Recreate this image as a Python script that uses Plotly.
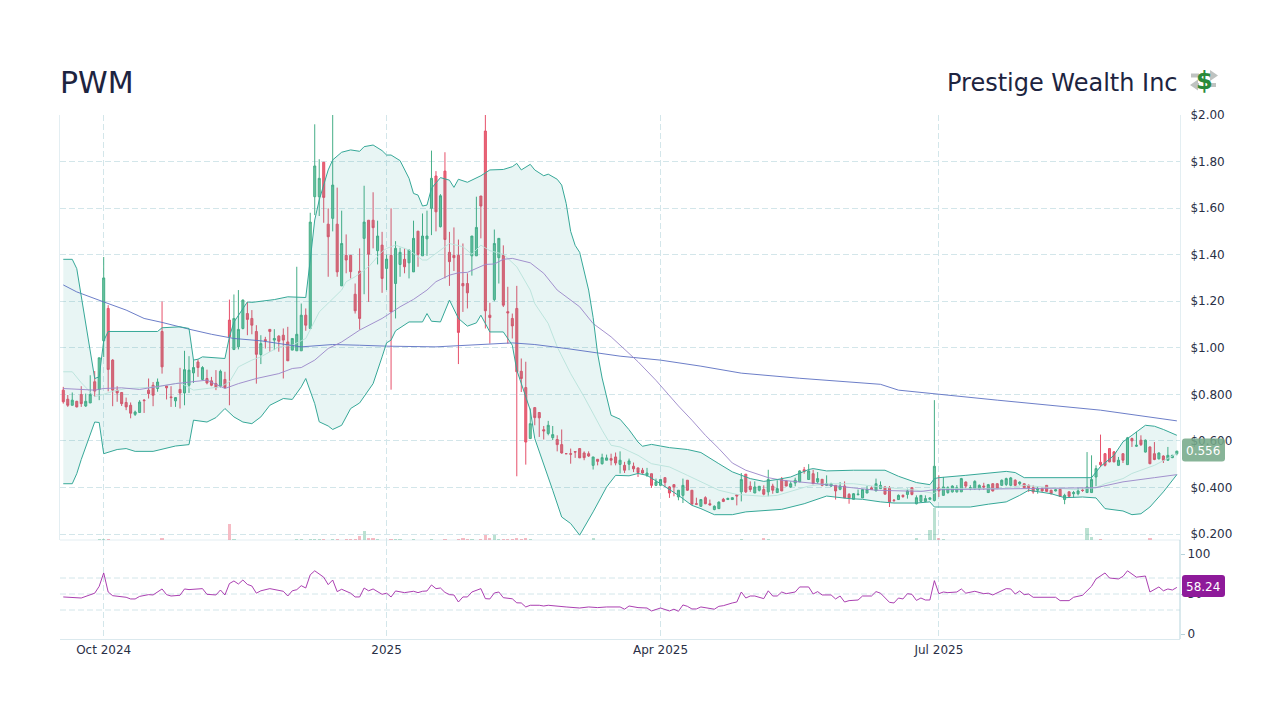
import plotly.graph_objects as go

ticker = "PWM"
company = "Prestige Wealth Inc"
x_tick_pos = [9, 72, 133, 195]
x_tick_text = ["Oct 2024", "2025", "Apr 2025", "Jul 2025"]
price_ticks = [2.0, 1.8, 1.6, 1.4, 1.2, 1.0, 0.8, 0.6, 0.4, 0.2]
price_tick_text = ["$2.00", "$1.80", "$1.60", "$1.40", "$1.20", "$1.00", "$0.800", "$0.600", "$0.400", "$0.200"]
last_price = 0.556
last_rsi = 58.24

opens = [
    .818,.779,.753,.770,.799,.750,.763,.854,.821,1.03,
    1.169,.947,.818,.808,.765,.753,.714,.722,.775,.818,
    .839,.825,1.07,.836,.789,.772,.821,.806,.839,.892,
    .939,.864,.868,.858,.846,.835,.864,1.119,.993,1.004,
    1.083,1.147,1.126,1.07,.971,1.035,1.079,1.033,1.05,1.054,
    1.025,.99,.987,.987,1.14,1.083,1.649,1.649,1.797,1.531,
    1.556,1.531,1.266,1.397,1.397,1.23,1.329,1.47,1.548,1.548,
    1.417,1.441,1.341,1.397,1.276,1.358,1.38,1.365,1.326,1.501,
    1.395,1.468,1.599,1.738,1.52,1.759,1.41,1.397,1.397,1.276,
    1.276,1.395,1.395,1.652,1.931,1.14,1.207,1.387,1.397,1.155,
    1.126,1.169,.899,.829,.61,.743,.722,.648,.632,.614,
    .606,.584,.545,.545,.554,.567,.548,.545,.495,.521,
    .502,.517,.524,.531,.499,.495,.5,.491,.484,.474,
    .452,.459,.409,.409,.442,.402,.412,.359,.366,.431,
    .388,.33,.319,.356,.33,.305,.309,.349,.348,.348,
    .369,.381,.457,.405,.376,.388,.391,.381,.406,.378,
    .434,.428,.402,.419,.424,.476,.434,.459,.424,.435,
    .409,.406,.409,.392,.406,.37,.349,.369,.355,.376,
    .398,.385,.395,.402,.398,.346,.348,.366,.37,.399,
    .33,.34,.34,.349,.344,.398,.366,.378,.381,.381,
    .381,.423,.395,.395,.395,.406,.378,.416,.416,.409,
    .413,.409,.431,.416,.416,.409,.399,.388,.395,.409,
    .388,.385,.392,.348,.381,.373,.373,.389,.378,.378,
    .445,.508,.545,.567,.553,.495,.545,.498,.61,.577,
    .603,.552,.574,.545,.523,.535,.517,.528,.545,
]
highs = [
    .832,.797,.808,.772,.835,.803,.882,.900,.957,1.39,
    1.183,.951,.835,.808,.786,.765,.73,.775,.78,.868,
    .853,.868,1.199,.839,.835,.787,.914,.987,.964,.947,
    .95,.921,.906,.875,.904,.906,.897,1.207,1.229,1.248,
    1.207,1.197,1.162,1.097,1.054,1.047,1.08,1.08,1.054,1.083,
    1.09,1.04,1.348,1.19,1.169,1.58,1.96,1.81,1.797,1.599,
    2.003,1.688,1.589,1.487,1.397,1.276,1.427,1.696,1.548,1.668,
    1.546,1.498,1.40,1.599,1.458,1.43,1.427,1.42,1.546,1.501,
    1.577,1.589,1.847,1.759,1.66,1.84,1.498,1.517,1.465,1.448,
    1.32,1.48,1.649,1.652,2.003,1.193,1.508,1.47,1.44,1.262,
    1.147,1.266,.954,.94,.739,.743,.722,.664,.686,.664,
    .624,.649,.546,.567,.554,.567,.555,.555,.531,.521,
    .545,.541,.545,.55,.555,.51,.524,.507,.484,.484,
    .484,.459,.438,.434,.442,.406,.412,.388,.438,.431,
    .388,.356,.348,.362,.348,.323,.34,.355,.356,.358,
    .369,.462,.457,.426,.426,.405,.409,.476,.416,.431,
    .445,.428,.426,.442,.474,.488,.5,.476,.466,.435,
    .452,.42,.409,.423,.426,.376,.376,.391,.391,.406,
    .405,.438,.426,.406,.406,.349,.37,.37,.395,.399,
    .366,.366,.366,.357,.775,.452,.445,.405,.409,.41,
    .441,.426,.41,.431,.413,.42,.415,.418,.418,.434,
    .442,.445,.435,.426,.418,.413,.409,.405,.399,.409,
    .39,.393,.395,.373,.383,.385,.398,.395,.552,.538,
    .495,.627,.547,.569,.555,.531,.545,.617,.614,.639,
    .624,.606,.576,.595,.551,.538,.574,.54,.557,
]
lows = [
    .76,.746,.753,.744,.746,.746,.763,.789,.775,.96,
    .813,.749,.768,.75,.732,.697,.707,.722,.72,.782,
    .749,.811,.889,.778,.746,.746,.739,.753,.806,.849,
    .875,.861,.843,.835,.818,.829,.825,.753,.99,.993,
    1.079,1.054,1.058,.846,.93,.997,.983,.99,.983,.868,
    .944,.99,.987,.987,1.073,1.08,1.57,1.566,1.537,1.305,
    1.5,1.305,1.266,1.32,1.298,1.147,1.078,1.23,1.197,1.427,
    1.358,1.236,1.248,.82,1.126,1.305,1.32,1.298,1.326,1.348,
    1.395,1.395,1.484,1.5,1.517,1.298,1.266,1.33,.93,1.154,
    1.169,1.31,1.395,1.47,1.083,1.018,1.2,1.276,1.175,1.018,
    1.04,.448,.81,.498,.61,.667,.617,.606,.624,.603,
    .555,.545,.544,.502,.527,.527,.517,.531,.477,.495,
    .498,.517,.495,.495,.46,.462,.474,.466,.445,.459,
    .445,.398,.406,.406,.402,.355,.362,.345,.333,.385,
    .328,.327,.316,.328,.323,.302,.309,.337,.346,.346,
    .323,.34,.376,.381,.376,.383,.366,.362,.373,.376,
    .385,.406,.398,.405,.424,.459,.434,.416,.416,.405,
    .406,.402,.348,.388,.355,.33,.349,.366,.355,.376,
    .39,.385,.395,.371,.316,.337,.346,.355,.352,.366,
    .327,.337,.337,.345,.34,.359,.366,.373,.378,.378,
    .381,.395,.388,.39,.388,.39,.376,.383,.393,.407,
    .406,.405,.405,.409,.397,.381,.373,.373,.382,.381,
    .37,.383,.36,.328,.358,.356,.366,.381,.378,.378,
    .405,.488,.49,.508,.508,.492,.505,.498,.574,.574,
    .578,.55,.5,.517,.52,.505,.514,.526,.538,
]
closes = [
    .768,.753,.775,.746,.760,.770,.799,.814,.957,1.30,
    .907,.818,.806,.76,.746,.719,.724,.767,.773,.803,
    .796,.853,.918,.828,.786,.786,.806,.906,.904,.915,
    .915,.915,.849,.839,.829,.899,.829,1.047,1.126,1.079,
    1.205,1.122,1.097,.972,1.018,1.03,1.07,1.04,1.028,1.033,
    .944,1.04,1.058,1.14,1.097,1.54,1.781,1.728,1.646,1.477,
    1.699,1.326,1.448,1.377,1.327,1.159,1.126,1.54,1.402,1.516,
    1.48,1.298,1.381,1.154,1.427,1.41,1.348,1.42,1.47,1.401,
    1.48,1.48,1.728,1.584,1.653,1.465,1.37,1.387,1.066,1.266,
    1.236,1.48,1.517,1.609,1.159,1.13,1.448,1.47,1.183,1.15,
    1.094,.897,.868,.595,.674,.7,.699,.643,.667,.627,
    .584,.548,.545,.543,.552,.527,.528,.535,.531,.512,
    .528,.527,.517,.505,.517,.474,.514,.48,.464,.462,
    .462,.409,.424,.434,.421,.376,.402,.388,.409,.388,
    .328,.328,.348,.33,.325,.319,.337,.34,.353,.356,
    .363,.434,.381,.391,.402,.405,.371,.434,.388,.395,
    .385,.406,.416,.431,.471,.469,.471,.416,.438,.409,
    .416,.416,.385,.406,.355,.355,.373,.371,.391,.392,
    .391,.416,.409,.371,.338,.344,.366,.361,.385,.37,
    .356,.366,.352,.355,.491,.385,.402,.399,.406,.399,
    .438,.406,.399,.426,.409,.402,.412,.385,.395,.431,
    .438,.441,.409,.423,.399,.399,.381,.395,.385,.383,
    .373,.39,.362,.366,.362,.378,.385,.387,.402,.434,
    .481,.498,.495,.51,.51,.517,.517,.613,.6,.581,
    .584,.603,.502,.52,.548,.517,.538,.538,.556,
]
# volume in thousands of shares
volumes = [
    40,30,35,30,40,35,40,45,60,100,
    70,40,35,30,35,40,30,35,30,40,
    35,40,250,40,30,35,40,45,40,35,
    30,40,35,30,35,40,35,1650,100,50,
    40,35,45,40,30,35,40,35,40,45,
    40,35,100,60,40,100,100,60,70,50,
    100,60,50,60,150,100,400,900,200,200,
    60,50,40,150,150,60,50,40,60,50,
    45,40,60,50,40,60,50,45,150,200,
    60,100,50,60,500,200,500,150,150,100,
    60,250,60,250,60,50,40,35,40,35,
    30,35,30,35,30,40,30,35,200,30,
    35,30,35,30,35,30,35,30,35,30,
    35,30,35,30,35,30,35,30,35,30,
    35,30,35,30,35,30,35,30,35,30,
    35,150,50,40,35,40,250,150,40,35,
    40,35,40,35,40,35,40,35,40,35,
    40,35,40,35,40,35,40,35,40,35,
    40,35,40,35,40,35,40,35,40,35,
    200,40,35,1000,3200,200,100,40,35,40,
    35,40,35,40,35,40,35,40,35,40,
    35,40,35,40,35,40,35,40,35,40,
    35,40,35,40,35,40,35,40,1200,300,
    40,100,40,35,40,35,40,35,40,35,
    40,35,200,35,40,35,40,35,40,
]

upper_x = [0,2,3,7,8,9,10,21,22,26,28,29,30,31,36,37,38,41,42,47,50,54,55,56,57,59,60,62,64,66,67,69,71,72,73,75,77,78,79,80,81,82,84,86,87,88,90,93,95,98,100,101,102,104,105,107,108,110,111,112,113,114,115,116,117,118,119,120,122,124,126,128,129,131,135,139,142,146,149,153,156,159,162,166,167,170,176,183,186,190,193,194,195,201,206,210,212,214,229,230,231,234,236,238,241,243,245,248]
upper_y = [1.38,1.38,1.34,.868,.875,1.03,1.07,1.07,1.086,1.09,1.083,.947,.951,.961,.954,1.047,1.11,1.197,1.195,1.207,1.219,1.216,1.377,1.549,1.635,1.764,1.807,1.84,1.85,1.844,1.864,1.871,1.847,1.828,1.828,1.804,1.728,1.663,1.656,1.609,1.613,1.685,1.731,1.72,1.689,1.724,1.711,1.739,1.764,1.766,1.778,1.792,1.764,1.788,1.764,1.739,1.746,1.724,1.699,1.62,1.5,1.44,1.41,1.33,1.248,1.13,.975,.87,.71,.693,.648,.595,.577,.585,.571,.563,.55,.502,.467,.438,.426,.434,.445,.477,.481,.471,.474,.474,.448,.421,.412,.438,.442,.452,.462,.469,.464,.442,.442,.467,.49,.538,.596,.624,.667,.663,.649,.624]

lower_x = [0,2,3,4,7,8,9,12,14,16,20,23,25,28,29,32,34,36,38,40,42,44,46,49,51,53,54,56,57,59,60,62,64,66,69,71,72,73,74,77,80,81,82,84,86,88,90,92,93,95,98,100,101,104,105,109,111,113,115,118,121,123,126,128,130,133,137,140,142,145,149,152,156,160,165,169,170,175,178,182,185,190,193,194,197,202,206,210,213,215,220,223,227,230,232,236,238,240,242,245,248]
lower_y = [.416,.416,.459,.52,.681,.679,.545,.563,.567,.555,.555,.57,.578,.584,.689,.681,.7,.739,.703,.681,.674,.703,.753,.782,.778,.832,.868,.76,.682,.664,.649,.667,.739,.763,.846,.961,1.021,1.033,1.073,1.111,1.111,1.147,1.114,1.111,1.205,1.126,1.093,1.107,1.14,1.068,1.068,1.011,.904,.732,.61,.388,.273,.245,.195,.295,.402,.452,.45,.46,.452,.416,.366,.323,.309,.283,.283,.295,.299,.306,.33,.359,.363,.352,.349,.338,.333,.333,.338,.316,.316,.316,.328,.338,.366,.388,.373,.356,.359,.355,.309,.299,.283,.287,.316,.381,.455]

middle_x = [0,2,4,7,9,11,14,21,26,29,35,37,39,42,44,48,51,54,57,60,62,63,65,68,71,72,74,77,80,81,83,86,89,91,93,95,98,101,104,105,108,110,113,116,120,122,124,128,131,135,139,143,146,150,156,159,163,166,170,176,182,190,194,195,209,214,220,225,230,232,236,238,243,248]
middle_y = [.897,.897,.85,.79,.8,.813,.825,.832,.85,.818,.832,.853,.918,.947,.961,1.004,1.011,1.04,1.154,1.212,1.248,1.284,1.305,1.348,1.413,1.427,1.441,1.42,1.377,1.377,1.405,1.448,1.434,1.402,1.441,1.417,1.402,1.348,1.248,1.19,1.104,1.004,.889,.789,.646,.581,.574,.538,.502,.488,.452,.416,.388,.37,.362,.366,.388,.406,.416,.416,.402,.388,.374,.395,.395,.409,.399,.391,.399,.416,.438,.46,.495,.545]

ma50_x = [0,7,9,13,17,25,32,36,39,43,48,51,53,56,59,62,66,71,75,78,81,83,86,88,90,92,94,96,98,100,104,107,110,115,118,122,124,128,132,137,140,143,146,149,152,157,160,164,168,176,181,191,194,230,236,243,248]
ma50_y = [.825,.818,.825,.828,.821,.846,.861,.825,.846,.868,.889,.911,.915,.947,.997,1.025,1.076,1.126,1.176,1.208,1.248,1.284,1.312,1.322,1.324,1.341,1.358,1.36,1.38,1.384,1.365,1.32,1.248,1.176,1.104,1.047,1.011,.94,.86,.75,.689,.624,.567,.505,.474,.442,.431,.424,.416,.398,.388,.383,.39,.399,.424,.442,.455]

ma200_x = [0,3,9,14,18,22,28,33,38,44,53,60,66,72,83,89,95,100,105,112,124,133,142,151,164,182,186,195,208,231,248]
ma200_y = [1.27,1.24,1.197,1.162,1.126,1.109,1.08,1.058,1.04,1.03,1.004,1.014,1.011,1.007,1.004,1.011,1.018,1.021,1.014,.997,.964,.947,.921,.891,.869,.843,.818,.8,.775,.732,.686]

rsi_x = [0,2,4,7,8,9,10,11,14,15,16,17,18,19,20,22,23,24,26,27,28,31,32,34,35,36,37,38,39,40,41,42,43,44,46,49,50,51,52,53,54,55,56,57,58,59,60,61,62,64,65,66,67,68,69,71,72,73,74,76,78,79,80,81,82,83,84,85,86,87,88,89,90,91,93,94,95,96,97,98,100,101,102,103,104,106,107,108,110,112,115,117,119,121,124,125,126,128,130,131,133,135,136,137,138,139,140,141,142,145,146,147,149,150,151,152,153,154,156,157,158,159,160,161,163,164,166,167,168,169,171,172,173,174,175,177,178,180,181,182,184,185,186,187,188,189,190,191,192,193,194,195,196,197,199,200,201,203,205,206,207,209,210,211,212,213,214,215,216,221,222,224,225,227,229,230,232,233,235,236,237,239,241,242,244,245,246,247,248]
rsi_y = [46.3,46,45,51,59.6,76.3,52.5,47.9,45.9,43.8,43.8,47,47.9,49.2,48.8,56.3,49.2,47.5,48.4,56.3,55.5,56.7,49.6,48.8,55,48.8,63,66.3,62.5,67.5,62,60,51,54,56.7,53.4,47.5,54,55.4,60.4,57.5,74,79,75,71,61.7,67.5,53,55.9,51,46.3,46.3,57.5,54,56.3,49.6,51,46.3,53.8,51.7,53.4,51.7,53.4,53.8,61.3,56.7,57.5,52,49.2,48.8,40,46.3,46.3,52.5,56.7,44.2,43.8,51.3,52.5,45.4,44,39,38.8,33.8,35.9,35.9,35,35.9,34.6,33.8,32.5,33.8,33,33.8,33.8,31,35,33,32.5,28.8,32.5,28.8,31,28.4,36.3,34.6,31.3,31.3,33.8,31,34.6,35.4,38.8,40,52.5,45,47.5,47.5,44.2,54,47.5,47.5,52.5,50.4,52.5,58.8,58.8,50,53,48.8,48.8,43.8,47.5,40,41.7,42.5,47.5,47.5,53,51,39.6,38.8,45,43.8,50.4,49.6,42,45,42.5,42.5,66.7,50.4,52.5,51.7,52.5,56.3,51,53.4,50.4,51,48.8,54,56.7,56.3,50,53.8,49.2,50,45.9,45.9,41.7,41.7,45.9,48.4,59.6,68.8,76.3,70,68.8,72,79,71,72.5,52.5,58.8,54,56.3,55,58.24]

# pixel helpers for decoration placed on the page
PL, PR, PT, PB, SPLIT = 60, 1180, 115, 639, 540
def px(v): return (v - PL) / (PR - PL)
def py(v): return (PB - v) / (PB - PT)

idx = list(range(len(opens)))
up_col, dn_col = "rgba(76,175,138,", "rgba(232,76,100,"
vol_cols = [(up_col if c >= o else dn_col) + "0.38)" for o, c in zip(opens, closes)]
TEAL, MID, PURPLE, BLUE, RSI_COL = "#36a898", "#b8e2da", "#9a86c8", "#5b6fc2", "#a12aa8"
GRID = "#d3e6ea"
TXT = "#1d2440"
FONT = "DejaVu Sans"
LW = 0.9

fig = go.Figure()
fig.add_trace(go.Scatter(x=upper_x, y=upper_y, mode="lines", line=dict(width=0), hoverinfo="skip"))
fig.add_trace(go.Scatter(x=lower_x, y=lower_y, mode="lines", line=dict(width=0), fill="tonexty",
                         fillcolor="rgba(30,160,150,0.10)", hoverinfo="skip"))
fig.add_trace(go.Bar(x=idx, y=volumes, yaxis="y3", width=0.72, marker=dict(color=vol_cols, line_width=0)))
fig.add_trace(go.Candlestick(
    x=idx, open=opens, high=highs, low=lows, close=closes, whiskerwidth=0,
    increasing=dict(line=dict(color="#46ae87", width=1), fillcolor="#6cc3a1"),
    decreasing=dict(line=dict(color="#e6506a", width=1), fillcolor="#e56a78"),
))
fig.add_trace(go.Scatter(x=middle_x, y=middle_y, mode="lines", line=dict(color=MID, width=LW)))
fig.add_trace(go.Scatter(x=ma200_x, y=ma200_y, mode="lines", line=dict(color=BLUE, width=LW)))
fig.add_trace(go.Scatter(x=ma50_x, y=ma50_y, mode="lines", line=dict(color=PURPLE, width=LW)))
fig.add_trace(go.Scatter(x=upper_x, y=upper_y, mode="lines", line=dict(color=TEAL, width=1)))
fig.add_trace(go.Scatter(x=lower_x, y=lower_y, mode="lines", line=dict(color=TEAL, width=1)))
fig.add_trace(go.Scatter(x=rsi_x, y=rsi_y, yaxis="y2", mode="lines", line=dict(color=RSI_COL, width=LW)))

def rounded(x0, y0, x1, y1, r=3):
    X0, X1, Y0, Y1 = px(x0), px(x1), py(y0), py(y1)
    rx, ry = r / (PR - PL), r / (PB - PT)
    return (f"M{X0+rx},{Y0} L{X1-rx},{Y0} Q{X1},{Y0} {X1},{Y0-ry} L{X1},{Y1+ry} Q{X1},{Y1} {X1-rx},{Y1} "
            f"L{X0+rx},{Y1} Q{X0},{Y1} {X0},{Y1+ry} L{X0},{Y0-ry} Q{X0},{Y0} {X0+rx},{Y0} Z")

def poly(points):
    return "M" + " L".join(f"{px(a)},{py(b)}" for a, b in points) + " Z"

shapes = []
for level in (30, 50, 70):
    shapes.append(dict(type="line", xref="paper", x0=0, x1=1, yref="y2", y0=level, y1=level, layer="below",
                       line=dict(color=GRID, width=1, dash="6px,3px")))
# right-hand axis line of the lower pane and the divider between panes
shapes.append(dict(type="line", xref="paper", yref="paper", x0=0, x1=1, y0=py(SPLIT), y1=py(SPLIT),
                   line=dict(color="#e3eef2", width=1), layer="below"))
shapes.append(dict(type="line", xref="paper", yref="paper", x0=1, x1=1, y0=0, y1=py(SPLIT),
                   line=dict(color="#b6d4dc", width=1)))
# value tags
shapes.append(dict(type="path", xref="paper", yref="paper", path=rounded(1182, 438.5, 1225, 461.5),
                   fillcolor="rgba(118,170,138,0.88)", line_width=0))
shapes.append(dict(type="path", xref="paper", yref="paper", path=rounded(1182, 575, 1225, 597),
                   fillcolor="#8e1a9a", line_width=0))
# logo arrows, split around the dollar sign
LOGO = "#bfc3c1"
for pts in (
    [(1191,73.5),(1199,73.5),(1199,77.5),(1191,77.5)],
    [(1209,73.5),(1210,73.5),(1210,70),(1218,75.5),(1210,81),(1210,77.5),(1209,77.5)],
    [(1199,83),(1198,83),(1198,79.5),(1190,85),(1198,90.5),(1198,87),(1199,87)],
    [(1209,83),(1216,83),(1216,87),(1209,87)],
):
    shapes.append(dict(type="path", xref="paper", yref="paper", fillcolor=LOGO, line_width=0, path=poly(pts)))

def note(text, x, y, size, color=TXT, anchor="left", **kw):
    return dict(text=text, xref="paper", yref="paper", x=px(x), y=py(y), showarrow=False, xanchor=anchor,
                yanchor="middle", font=dict(family=FONT, size=size, color=color), **kw)

annotations = [
    note(ticker, 58, 83, 30),
    note(company, 1180, 83, 24, anchor="right"),
    note("<b>$</b>", 1204, 80.5, 24, color="#2a8a3a", anchor="center"),
    note(f"{last_price:.3f}", 1203, 450.5, 12, color="#ffffff", anchor="center"),
    note(f"{last_rsi:.2f}", 1203, 586.5, 12, color="#ffffff", anchor="center"),
]

price_low = 0.2 - (SPLIT - 534) / 232.8
fig.update_layout(
    width=1280, height=720, margin=dict(l=PL, r=1280 - PR, t=PT, b=720 - PB, pad=0),
    paper_bgcolor="#ffffff", plot_bgcolor="#ffffff", showlegend=False, bargap=0,
    font=dict(family=FONT, size=12, color="#2a3046"), hovermode=False, boxgap=0.36,
    shapes=shapes, annotations=annotations,
    xaxis=dict(range=[-0.73, 248.7], anchor="y2", tickmode="array", tickvals=x_tick_pos, ticktext=x_tick_text,
               showgrid=True, gridcolor=GRID, griddash="6px,3px", gridwidth=1, zeroline=False,
               rangeslider=dict(visible=False), showline=True, linecolor="#dbe9ee", linewidth=1,
               ticks="", tickfont=dict(size=12)),
    yaxis=dict(domain=[py(SPLIT), 1], range=[price_low, 2.0], side="right", anchor="x",
               tickmode="array", tickvals=price_ticks, ticktext=price_tick_text,
               showgrid=True, gridcolor=GRID, griddash="6px,3px", gridwidth=1, zeroline=False,
               showline=True, linecolor="#e3eef2", linewidth=1, mirror=True,
               ticks="outside", ticklen=7, tickcolor="rgba(0,0,0,0)", tickfont=dict(size=12)),
    yaxis3=dict(domain=[py(SPLIT), 1], overlaying="y", range=[0, 42500], visible=False, side="left", anchor="x"),
    yaxis2=dict(domain=[0, py(SPLIT)], range=[-6.25, 117.5], side="right", anchor="x",
                tickmode="array", tickvals=[0, 50, 100], ticktext=["0", "50", "100"],
                showgrid=False, zeroline=False, showline=False,
                ticks="outside", ticklen=4, tickcolor="#b6d4dc", tickfont=dict(size=12)),
)
fig.write_html("out.html", config=dict(displayModeBar=False), post_script="document.body.style.margin='0';")
